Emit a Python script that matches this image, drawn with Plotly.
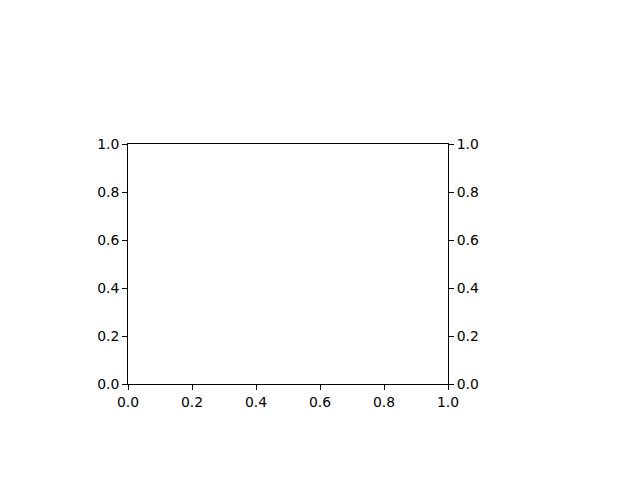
import plotly.graph_objects as go

# eixos vazios: sem dados, só os ticks
x_vals = []
y_left = []
y_right = []
tick_vals = [0.0, 0.2, 0.4, 0.6, 0.8, 1.0]
tick_text = ['0.0', '0.2', '0.4', '0.6', '0.8', '1.0']

fig = go.Figure()
fig.add_trace(go.Scatter(x=x_vals, y=y_left, yaxis='y', showlegend=False))
fig.add_trace(go.Scatter(x=x_vals, y=y_right, yaxis='y2', showlegend=False))

eixo = dict(
    range=[0, 1], tickvals=tick_vals, ticktext=tick_text,
    showgrid=False, zeroline=False, showline=True,
    linecolor='black', linewidth=1,
    ticks='outside', ticklen=5, tickwidth=1, tickcolor='black',
    tickfont=dict(family='DejaVu Sans', size=13.9, color='black'),
)

# a página tem 8px de margem no body, compensado aqui
fig.update_layout(
    width=640, height=480,
    margin=dict(l=120, r=200, t=136, b=104),
    paper_bgcolor='white', plot_bgcolor='white',
    xaxis=dict(eixo, mirror=True),
    yaxis=dict(eixo),
    yaxis2=dict(eixo, overlaying='y', side='right'),
)

fig.write_html('out.html')
